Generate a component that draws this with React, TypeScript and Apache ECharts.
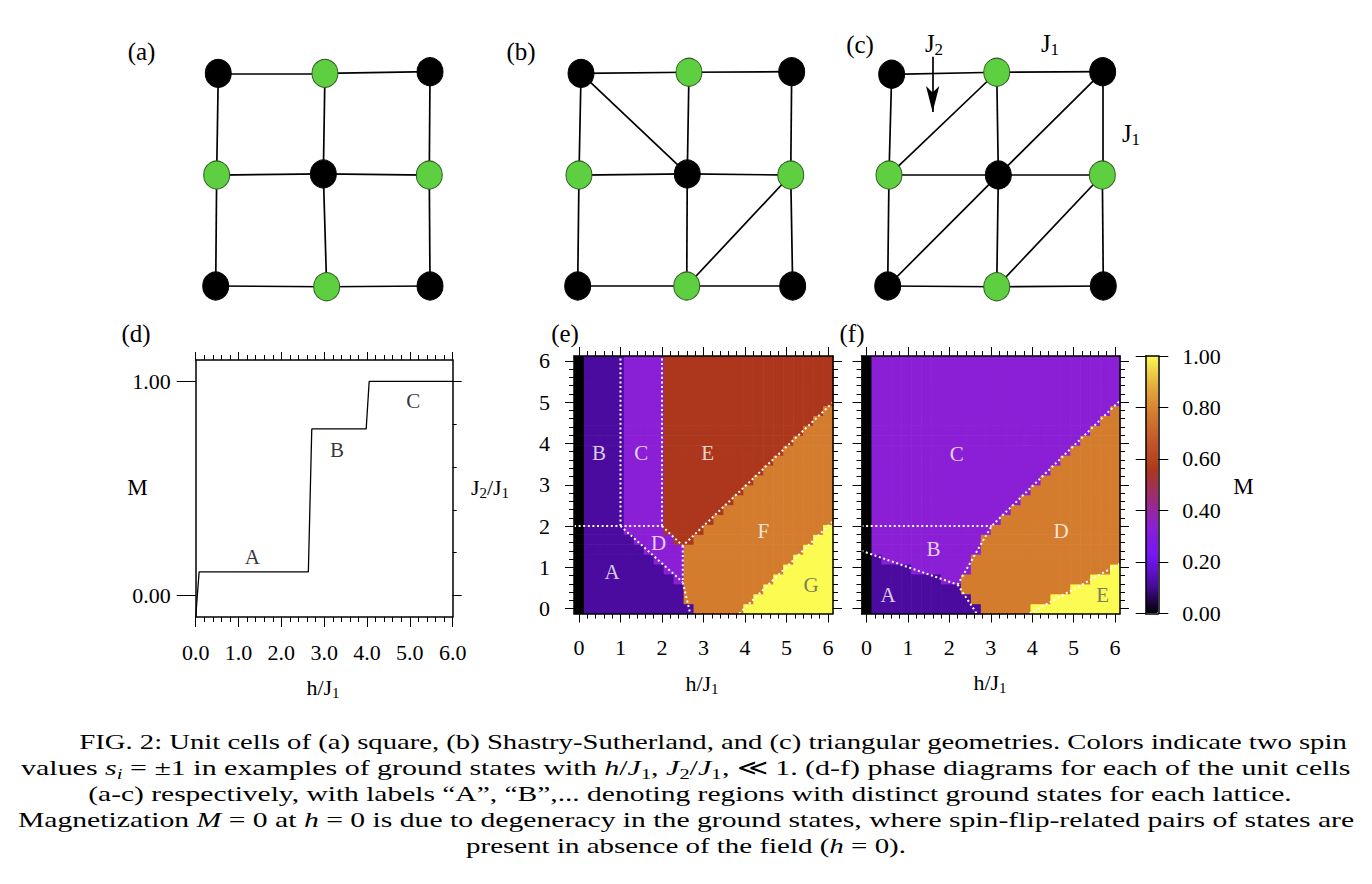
import React, { useEffect, useRef } from 'react';
import * as echarts from 'echarts';

const SERIF = "'Liberation Serif', 'Times New Roman', serif";

// ---------- (a)-(c) unit cells ----------
const NODES_A = [[0.024, 1.997], [1.021, 1.997], [2.003, 2.012], [0.009, 1.042], [1.006, 1.052], [1.996, 1.042], [0, 0], [1.037, -0.007], [2.003, 0]];
const NODES_B = [[0.031, 1.997], [1.04, 2.007], [2.0, 2.012], [0.012, 1.042], [1.024, 1.052], [1.991, 1.042], [0, 0], [1.019, 0], [2.009, 0]];
const NODES_C = [[0.037, 1.988], [1.019, 2.007], [2.009, 2.012], [0.012, 1.042], [1.034, 1.042], [2.006, 1.042], [0, 0], [1.019, -0.007], [2.015, 0]];
const NODE_SPINS = ['b', 'g', 'b', 'g', 'b', 'g', 'b', 'g', 'b'];
const SQUARE_BONDS = [[0, 1], [1, 2], [3, 4], [4, 5], [6, 7], [7, 8], [0, 3], [3, 6], [1, 4], [4, 7], [2, 5], [5, 8]];
const SS_BONDS = [[0, 4], [7, 5]];
const TRI_BONDS = [[3, 1], [4, 2], [6, 4], [7, 5]];
const J2_ARROW = [[0.42, 2.153], [0.42, 1.634]];

// ---------- (d) magnetization ----------
const D_H = [0, 0.08, 2.63, 2.71, 3.98, 4.05, 6];
const D_M = [-0.1, 0.111, 0.111, 0.778, 0.778, 1, 1];
const D_LABELS = [
  { name: 'A', h: 1.32, j: 0.18 },
  { name: 'B', h: 3.3, j: 0.68 },
  { name: 'C', h: 5.08, j: 0.91 },
];

// ---------- (e),(f) phase diagrams: sampling grid and phase regions ----------
const H_GRID = [0, 0.24, 0.48, 0.72, 0.96, 1.2, 1.44, 1.68, 1.92, 2.16, 2.4, 2.64, 2.88, 3.12, 3.36, 3.6, 3.84, 4.08, 4.32, 4.56, 4.8, 5.04, 5.28, 5.52, 5.76, 6.0];
const J_GRID = [0, 0.24, 0.48, 0.72, 0.96, 1.2, 1.44, 1.68, 1.92, 2.16, 2.4, 2.64, 2.88, 3.12, 3.36, 3.6, 3.84, 4.08, 4.32, 4.56, 4.8, 5.04, 5.28, 5.52, 5.76, 6.0];
const CELL_HALF = 0.12;

const PHASES_E = [
  { id: 'O', m: 0, poly: [[-1, -1], [0.12, -1], [0.12, 7], [-1, 7]] },
  { id: 'B', m: 0.111, poly: [[0.12, 2], [1, 2], [1, 7], [0.12, 7]] },
  { id: 'C', m: 0.333, poly: [[1, 2], [2, 2], [2, 7], [1, 7]] },
  { id: 'E', m: 0.556, poly: [[2, 7], [2, 2], [2.5, 1.52], [7, 5.89], [7, 7]] },
  { id: 'D', m: 0.333, poly: [[1, 2], [2, 2], [2.5, 1.52], [2.5, 0.61], [1, 1.95]] },
  { id: 'A', m: 0.111, poly: [[0.12, -1], [0.12, 2], [1, 2], [1, 1.95], [2.5, 0.61], [2.72, -0.2], [2.72, -1]] },
  { id: 'G', m: 1, poly: [[3, -1], [7, -1], [7, 3]] },
];
const REST_E = 0.778; // F

const PHASES_F = [
  { id: 'O', m: 0, poly: [[-1, -1], [0.12, -1], [0.12, 7], [-1, 7]] },
  { id: 'A', m: 0.111, poly: [[0.12, -1], [0.12, 1.317], [2.2, 0.58], [2.8, -0.2], [2.8, -1]] },
  { id: 'E', m: 1, poly: [[1.96, -1], [7, -1], [7, 1.52]] },
  { id: 'D', m: 0.778, poly: [[2.8, -1], [2.8, -0.2], [2.2, 0.58], [3.02, 2], [7, 5.9], [7, -1]] },
  { id: 'B', m: 0.333, poly: [[-1, -1], [7, -1], [7, 2], [-1, 2]] },
];
const REST_F = 0.333; // C

const BOUNDS_E = [
  [[-0.12, 2], [2, 2]],
  [[1, 2], [1, 6.12]],
  [[2, 2], [2, 6.12]],
  [[2, 2], [2.5, 1.52], [6.1, 4.98]],
  [[1, 2], [2.5, 0.64]],
  [[2.5, 1.52], [2.5, 0.64], [2.68, -0.12]],
  [[3.86, -0.12], [6.1, 2.1]],
];
const BOUNDS_F = [
  [[-0.12, 2], [3.02, 2]],
  [[-0.12, 1.4], [2.2, 0.58]],
  [[2.2, 0.58], [3.02, 2], [6.1, 5.02]],
  [[2.2, 0.58], [2.66, -0.12]],
  [[3.94, -0.12], [6.1, 1.08]],
];

const LABELS_E = [
  { name: 'B', h: 0.48, j: 3.78, c: '#ffffff' },
  { name: 'C', h: 1.5, j: 3.78, c: '#ffffff' },
  { name: 'E', h: 3.1, j: 3.78, c: '#ffffff' },
  { name: 'D', h: 1.92, j: 1.58, c: '#ffffff' },
  { name: 'F', h: 4.44, j: 1.88, c: '#ffffff' },
  { name: 'A', h: 0.8, j: 0.89, c: '#ffffff' },
  { name: 'G', h: 5.59, j: 0.57, c: '#5a5a5a' },
];
const LABELS_F = [
  { name: 'C', h: 2.18, j: 3.74, c: '#ffffff' },
  { name: 'B', h: 1.62, j: 1.45, c: '#ffffff' },
  { name: 'D', h: 4.7, j: 1.88, c: '#ffffff' },
  { name: 'A', h: 0.52, j: 0.34, c: '#ffffff' },
  { name: 'E', h: 5.7, j: 0.34, c: '#5a5a5a' },
];

const M_PALETTE = ['#000000', '#4b0b9f', '#7416f5', '#8a1fd6', '#9b2b7a', '#ad371c', '#c4572a', '#d47c2e', '#e6ae3e', '#fcfb52'];

// ---------- caption ----------
const CAPTION = [
  [['n', 'FIG. 2: Unit cells of (a) square, (b) Shastry-Sutherland, and (c) triangular geometries. Colors indicate two spin']],
  [['n', 'values '], ['i', 's'], ['si', 'i'], ['n', ' = ±1 in examples of ground states with '], ['i', 'h'], ['n', '/'], ['i', 'J'], ['s', '1'], ['n', ', '], ['i', 'J'], ['s', '2'], ['n', '/'], ['i', 'J'], ['s', '1'], ['n', ', ≪ 1. (d-f) phase diagrams for each of the unit cells']],
  [['n', '(a-c) respectively, with labels “A”, “B”,... denoting regions with distinct ground states for each lattice.']],
  [['n', 'Magnetization '], ['i', 'M'], ['n', ' = 0 at '], ['i', 'h'], ['n', ' = 0 is due to degeneracy in the ground states, where spin-flip-related pairs of states are']],
  [['n', 'present in absence of the field ('], ['i', 'h'], ['n', ' = 0).']],
];
const CAPTION_SPAN = [[79, 1347], [21, 1351], [88, 1292], [18, 1354], [466, 906]];
const CAPTION_Y = [742, 768, 794, 820, 846];

// ---------- layout ----------
const LAT_X0 = [215.7, 577.7, 887.7];
const LAT_Y0 = 286;
const LAT_UX = 107;
const LAT_UY = 106.5;
const LAT_X = [-0.3, 2.3];
const LAT_Y = [-0.3, 2.4];
const BOX_D = { left: 195.7, top: 360, width: 257, height: 257 };
const BOX_E = { left: 574, top: 356, width: 259, height: 257.5 };
const BOX_F = { left: 861.5, top: 356, width: 258.5, height: 257.5 };
const BOX_CB = { left: 1145.7, top: 356, width: 12.6, height: 257.3 };

function inPoly(x: number, y: number, poly: number[][]) {
  let inside = false;
  for (let i = 0, k = poly.length - 1; i < poly.length; k = i++) {
    const xi = poly[i][0], yi = poly[i][1], xk = poly[k][0], yk = poly[k][1];
    if ((yi > y) !== (yk > y) && x < ((xk - xi) * (y - yi)) / (yk - yi) + xi) inside = !inside;
  }
  return inside;
}
function rasterize(phases: any[], rest: number) {
  const out: number[][] = [];
  for (const J of J_GRID) {
    for (const h of H_GRID) {
      let m = rest;
      for (const p of phases) {
        if (inPoly(h, J, p.poly)) { m = p.m; break; }
      }
      out.push([h, J, m]);
    }
  }
  return out;
}

const richStyles = (size: number, sub: number) => {
  const lh = Math.round(size * 1.2);
  const slh = Math.round(sub * 0.7);
  return {
    n: { fontSize: size, fontFamily: SERIF, color: '#000', lineHeight: lh },
    i: { fontSize: size, fontFamily: SERIF, fontStyle: 'italic', color: '#000', lineHeight: lh },
    s: { fontSize: sub, fontFamily: SERIF, color: '#000', lineHeight: slh, verticalAlign: 'bottom' },
    si: { fontSize: sub, fontFamily: SERIF, fontStyle: 'italic', color: '#000', lineHeight: slh, verticalAlign: 'bottom' },
  };
};
const toRich = (tokens: any[]) => tokens.map(([k, t]) => `{${k}|${t}}`).join('');

function richText(x: number, y: number, tokens: any[], size: number, sub: number, scaleX = 1) {
  return {
    type: 'text', x, y, scaleX, silent: true,
    style: {
      text: toRich(tokens), fontSize: size, fontFamily: SERIF, fill: '#000',
      align: 'center', verticalAlign: 'middle', rich: richStyles(size, sub),
    },
  };
}

function measureTokens(tokens: any[], size: number, sub: number) {
  const ctx = document.createElement('canvas').getContext('2d') as CanvasRenderingContext2D;
  const fonts: any = {
    n: `${size}px ${SERIF}`, i: `italic ${size}px ${SERIF}`, s: `${sub}px ${SERIF}`, si: `italic ${sub}px ${SERIF}`,
  };
  let w = 0;
  for (const [k, t] of tokens) { ctx.font = fonts[k]; w += ctx.measureText(t).width; }
  return w;
}

const BLACK = { color: '#000', width: 1 };
const hiddenAxis = (gridIndex: number, min: number, max: number) => ({ type: 'value', gridIndex, min, max, show: false });
const frameAxis = (gridIndex: number, position: string, min: number, max: number) => ({
  type: 'value', gridIndex, position, min, max, z: 10,
  axisLine: { show: true, onZero: false, lineStyle: { color: '#000', width: 1.5 } },
  axisTick: { show: false }, axisLabel: { show: false }, splitLine: { show: false },
});
const tickAxis = (gridIndex: number, position: string, min: number, max: number, interval: number, o: any) => ({
  type: 'value', gridIndex, position, min, max, interval, offset: o.offset || 0, z: 10,
  axisLine: { show: !!o.line, onZero: false, lineStyle: { color: '#000', width: 1.5 } },
  axisTick: { show: true, inside: false, length: o.major, lineStyle: BLACK },
  minorTick: o.minor ? { show: true, splitNumber: 5, length: o.minor, lineStyle: BLACK } : { show: false },
  axisLabel: o.label
    ? { show: true, formatter: o.label, margin: o.margin, fontFamily: SERIF, fontSize: 22, color: '#000' }
    : { show: false },
  splitLine: { show: false }, minorSplitLine: { show: false },
});

function inner(box: any, xr: number[], yr: number[], x0: number, x1: number, y0: number, y1: number) {
  const ux = box.width / (xr[1] - xr[0]);
  const uy = box.height / (yr[1] - yr[0]);
  return {
    left: box.left + (x0 - xr[0]) * ux,
    top: box.top + (yr[1] - y1) * uy,
    width: (x1 - x0) * ux,
    height: (y1 - y0) * uy,
    offX: (x0 - xr[0]) * ux,
    offY: (y0 - yr[0]) * uy,
  };
}

function buildOption() {
  const PR = [-CELL_HALF, 6 + CELL_HALF];
  const innerD = inner(BOX_D, [0, 6], [-0.1, 1.1], 0, 6, 0, 1);
  const innerE = inner(BOX_E, PR, PR, 0, 6, 0, 6);
  const innerF = inner(BOX_F, PR, PR, 0, 6, 0, 6);
  const g = (b: any) => ({ left: b.left, top: b.top, width: b.width, height: b.height, outerBoundsMode: 'none', containLabel: false, show: false });

  const grids = [
    ...LAT_X0.map((x0) => g({
      left: x0 + LAT_X[0] * LAT_UX, top: LAT_Y0 - LAT_Y[1] * LAT_UY,
      width: (LAT_X[1] - LAT_X[0]) * LAT_UX, height: (LAT_Y[1] - LAT_Y[0]) * LAT_UY,
    })),
    g(BOX_D), g(innerD), g(BOX_E), g(innerE), g(BOX_F), g(innerF), g(BOX_CB),
  ];

  const intLabel = (v: number) => String(Math.round(v));
  const xAxis = [
    hiddenAxis(0, LAT_X[0], LAT_X[1]), hiddenAxis(1, LAT_X[0], LAT_X[1]), hiddenAxis(2, LAT_X[0], LAT_X[1]),
    tickAxis(3, 'bottom', 0, 6, 1, { line: true, major: 10, minor: 5, label: (v: number) => v.toFixed(1), margin: 24 }),
    tickAxis(3, 'top', 0, 6, 1, { line: true, major: 8, minor: 5 }),
    hiddenAxis(4, 0, 6),
    frameAxis(5, 'bottom', PR[0], PR[1]), frameAxis(5, 'top', PR[0], PR[1]),
    tickAxis(6, 'bottom', 0, 6, 1, { major: 9, minor: 5, label: intLabel, margin: 23, offset: innerE.offY }),
    tickAxis(6, 'top', 0, 6, 1, { major: 9, minor: 5, offset: BOX_E.height - innerE.height - innerE.offY }),
    frameAxis(7, 'bottom', PR[0], PR[1]), frameAxis(7, 'top', PR[0], PR[1]),
    tickAxis(8, 'bottom', 0, 6, 1, { major: 9, minor: 5, label: intLabel, margin: 23, offset: innerF.offY }),
    tickAxis(8, 'top', 0, 6, 1, { major: 9, minor: 5, offset: BOX_F.height - innerF.height - innerF.offY }),
    frameAxis(9, 'bottom', 0, 1), frameAxis(9, 'top', 0, 1),
  ];
  const yAxis = [
    hiddenAxis(0, LAT_Y[0], LAT_Y[1]), hiddenAxis(1, LAT_Y[0], LAT_Y[1]), hiddenAxis(2, LAT_Y[0], LAT_Y[1]),
    frameAxis(3, 'left', -0.1, 1.1), frameAxis(3, 'right', -0.1, 1.1),
    tickAxis(4, 'left', 0, 1, 1, { major: 19, label: (v: number) => v.toFixed(2), margin: 25 }),
    tickAxis(4, 'right', 0, 1, 1, { major: 9 }),
    tickAxis(4, 'right', 0, 1, 0.2, { major: 4 }),
    frameAxis(5, 'left', PR[0], PR[1]), frameAxis(5, 'right', PR[0], PR[1]),
    tickAxis(6, 'left', 0, 6, 1, { major: 9, minor: 5, label: intLabel, margin: 24, offset: innerE.offX }),
    tickAxis(6, 'right', 0, 6, 1, { major: 9, minor: 5, offset: BOX_E.width - innerE.width - innerE.offX }),
    frameAxis(7, 'left', PR[0], PR[1]), frameAxis(7, 'right', PR[0], PR[1]),
    tickAxis(8, 'left', 0, 6, 1, { major: 9, minor: 5, offset: innerF.offX }),
    tickAxis(8, 'right', 0, 6, 1, { major: 9, minor: 5, offset: BOX_F.width - innerF.width - innerF.offX }),
    tickAxis(9, 'left', 0, 1, 0.2, { line: true, major: 10 }),
    tickAxis(9, 'right', 0, 1, 0.2, { line: true, major: 10, label: (v: number) => v.toFixed(2), margin: 24 }),
  ];

  const latticeSeries = (idx: number, nodes: number[][], extra: number[][]) => ({
    type: 'graph', coordinateSystem: 'cartesian2d', xAxisIndex: idx, yAxisIndex: idx,
    layout: 'none', silent: true, symbol: 'circle', symbolSize: [26, 28], z: 3,
    label: { show: false },
    data: nodes.map((p, i) => ({
      value: p,
      itemStyle: NODE_SPINS[i] === 'b'
        ? { color: '#000000', borderColor: '#000000', borderWidth: 1 }
        : { color: '#5ecf40', borderColor: '#2d5a1e', borderWidth: 1 },
    })),
    links: [...SQUARE_BONDS, ...extra].map(([s, t]) => ({ source: s, target: t })),
    lineStyle: { color: '#000', width: 1.7, opacity: 1, curveness: 0 },
  });

  const cellSeries = (xi: number, yi: number, data: number[][]) => ({
    type: 'custom', xAxisIndex: xi, yAxisIndex: yi, data, silent: true, z: 2,
    encode: { x: 0, y: 1 },
    renderItem: (params: any, api: any) => {
      const h = api.value(0), J = api.value(1);
      const a = api.coord([h - CELL_HALF, J + CELL_HALF]);
      const b = api.coord([h + CELL_HALF, J - CELL_HALF]);
      return {
        type: 'rect',
        shape: { x: a[0], y: a[1], width: b[0] - a[0] + 0.6, height: b[1] - a[1] + 0.6 },
        style: { fill: api.visual('color') },
      };
    },
  });

  const boundSeries = (xi: number, yi: number, bounds: number[][][]) => ({
    type: 'lines', coordinateSystem: 'cartesian2d', xAxisIndex: xi, yAxisIndex: yi,
    polyline: true, clip: false, silent: true, z: 4,
    lineStyle: { color: '#ffffff', width: 2, type: [2, 2.6], opacity: 1 },
    data: bounds.map((c) => ({ coords: c })),
  });

  const labelSeries = (xi: number, yi: number, labels: any[], fs: number) => ({
    type: 'scatter', xAxisIndex: xi, yAxisIndex: yi, silent: true, z: 5,
    symbol: 'circle', symbolSize: 1, itemStyle: { color: 'rgba(0,0,0,0)' },
    label: { show: true, position: 'inside', formatter: '{b}', fontFamily: SERIF, fontSize: fs },
    data: labels.map((l) => ({ name: l.name, value: [l.h, l.j], label: { color: l.c || '#000' } })),
  });

  const series = [
    latticeSeries(0, NODES_A, []),
    latticeSeries(1, NODES_B, SS_BONDS),
    latticeSeries(2, NODES_C, TRI_BONDS),
    {
      type: 'lines', coordinateSystem: 'cartesian2d', xAxisIndex: 2, yAxisIndex: 2, silent: true, z: 4,
      symbol: ['none', 'arrow'], symbolSize: [0, [10, 26]],
      lineStyle: { color: '#000', width: 1.7, opacity: 1 },
      data: [{ coords: J2_ARROW }],
    },
    {
      type: 'line', xAxisIndex: 3, yAxisIndex: 3, symbol: 'none', silent: true, z: 3,
      lineStyle: { color: '#000', width: 1.3 },
      data: D_H.map((h, i) => [h, D_M[i]]),
    },
    labelSeries(3, 3, D_LABELS, 21),
    cellSeries(6, 8, rasterize(PHASES_E, REST_E)),
    boundSeries(8, 10, BOUNDS_E),
    labelSeries(8, 10, LABELS_E, 21),
    cellSeries(10, 12, rasterize(PHASES_F, REST_F)),
    boundSeries(12, 14, BOUNDS_F),
    labelSeries(12, 14, LABELS_F, 21),
  ];

  const plain = (x: number, y: number, text: string, size: number) => ({
    type: 'text', x, y, silent: true,
    style: { text, fontSize: size, fontFamily: SERIF, fill: '#000', align: 'center', verticalAlign: 'middle' },
  });

  const CAP_SIZE = 22;
  const CAP_SUB = 15;
  const captionEls = CAPTION.map((tokens, k) => {
    const [l, r] = CAPTION_SPAN[k];
    const w = measureTokens(tokens, CAP_SIZE, CAP_SUB);
    const sx = w > 0 ? (r - l) / w : 1;
    return richText((l + r) / 2, CAPTION_Y[k], tokens, CAP_SIZE, CAP_SUB, sx);
  });

  const graphic = [
    plain(141.5, 51, '(a)', 25), plain(521, 51, '(b)', 25), plain(860, 44, '(c)', 25),
    richText(934, 43, [['n', 'J'], ['s', '2']], 25, 17),
    richText(1050, 43, [['n', 'J'], ['s', '1']], 25, 17),
    richText(1131, 133, [['n', 'J'], ['s', '1']], 25, 17),
    plain(136, 333, '(d)', 25), plain(565, 333, '(e)', 25), plain(852, 333, '(f)', 25),
    plain(137.5, 487, 'M', 23),
    richText(323, 687, [['n', 'h/J'], ['s', '1']], 22, 15),
    richText(490, 487, [['n', 'J'], ['s', '2'], ['n', '/J'], ['s', '1']], 22, 15),
    richText(702, 683, [['n', 'h/J'], ['s', '1']], 22, 15),
    richText(990, 682, [['n', 'h/J'], ['s', '1']], 22, 15),
    plain(1243.5, 486, 'M', 23),
    ...captionEls,
  ];

  return {
    animation: false,
    backgroundColor: '#ffffff',
    grid: grids,
    xAxis,
    yAxis,
    visualMap: [{
      type: 'continuous', min: 0, max: 1, dimension: 2, seriesIndex: [6, 9],
      inRange: { color: M_PALETTE }, orient: 'vertical',
      left: BOX_CB.left, top: BOX_CB.top, itemWidth: BOX_CB.width, itemHeight: BOX_CB.height,
      calculable: false, hoverLink: false, padding: 0, show: true, z: 2,
    }],
    series,
    graphic: { elements: graphic },
  };
}

export default function App() {
  const ref = useRef<HTMLDivElement>(null);
  useEffect(() => {
    const chart = echarts.init(ref.current as HTMLDivElement, undefined, { renderer: 'svg' });
    chart.setOption(buildOption() as any);
    return () => chart.dispose();
  }, []);
  return (
    <div
      ref={ref}
      style={{ position: 'absolute', left: 0, top: 0, width: 1372, height: 884, background: '#ffffff' }}
    />
  );
}
